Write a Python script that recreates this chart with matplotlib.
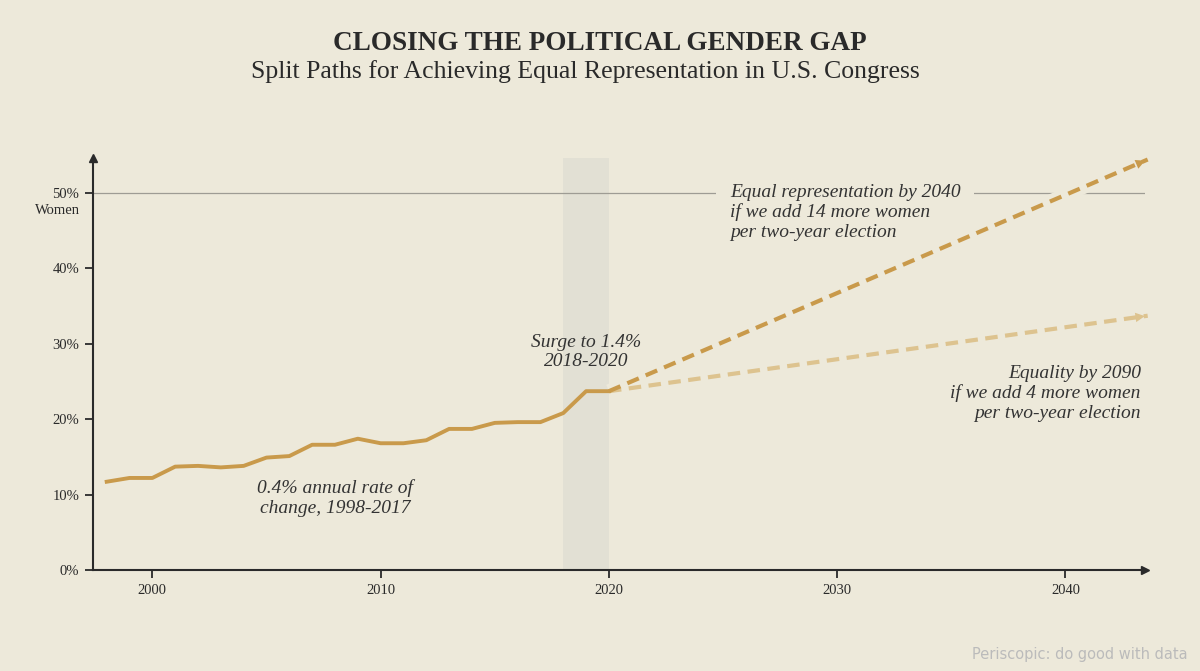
import numpy as np
import matplotlib.pyplot as plt

bg = "#EDE9DA"
gold = "#C99A4B"
gold_light = "#DDC38F"
ink = "#2A2A2A"

years = list(range(1998, 2021))
women_pct = [11.7, 12.2, 12.2, 13.7, 13.8, 13.6, 13.8, 14.9, 15.1, 16.6, 16.6,
             17.4, 16.8, 16.8, 17.2, 18.7, 18.7, 19.5, 19.6, 19.6, 20.8, 23.7, 23.7]

proj_years = [2020, 2043.6]
fast_path = [23.7, 54.4]
slow_path = [23.7, 33.7]

surge_span = (2018, 2020)
parity = 50

plt.rcParams["font.family"] = ["Liberation Serif", "DejaVu Serif"]

fig = plt.figure(figsize=(12, 6.71), dpi=100, facecolor=bg)
ax = fig.add_axes([0.0775, 0.1505, 0.877, 0.614], facecolor=bg)
ax.set_xlim(1997.4, 2043.5)
ax.set_ylim(0, 54.6)

# surge band
ax.axvspan(*surge_span, color="#E2E0D4", zorder=0, lw=0)

# 50% line
ax.axhline(parity, color="#9E9C94", lw=0.9, zorder=1)

# projections (with background halo so the 50% line breaks around it)
ax.plot(proj_years, fast_path, color=bg, lw=10, solid_capstyle="butt", zorder=2,
        clip_on=False)
ax.plot(proj_years, slow_path, color=gold_light, lw=3, ls=(0, (3, 1.8)), zorder=3,
        clip_on=False)
ax.plot(proj_years, fast_path, color=gold, lw=3, ls=(0, (3, 1.8)), zorder=3,
        clip_on=False)
for path, c in [(fast_path, gold), (slow_path, gold_light)]:
    x0, x1 = proj_years
    y0, y1 = path
    ax.annotate("", xy=(x1, y1), xytext=(x1 - 0.03 * (x1 - x0), y1 - 0.03 * (y1 - y0)),
                arrowprops=dict(arrowstyle="-|>", color=c, lw=0, mutation_scale=17),
                annotation_clip=False, zorder=4)

# history
ax.plot(years, women_pct, color=gold, lw=2.8, solid_joinstyle="round", zorder=3)

# axes
for s in ["top", "right"]:
    ax.spines[s].set_visible(False)
for s in ["left", "bottom"]:
    ax.spines[s].set_color(ink)
    ax.spines[s].set_linewidth(1.5)
ax.plot(1, 0, ">", color=ink, ms=6, transform=ax.transAxes, clip_on=False)
ax.plot(0, 1, "^", color=ink, ms=6, transform=ax.transAxes, clip_on=False)

ax.set_yticks([0, 10, 20, 30, 40, 50])
ax.set_yticklabels(["0%", "10%", "20%", "30%", "40%", "50%"])
ax.set_xticks([2000, 2010, 2020, 2030, 2040])
ax.tick_params(axis="both", colors=ink, labelsize=10.5, width=1.3, length=6, pad=4)
ax.text(-0.012, parity - 2.4, "Women", transform=ax.get_yaxis_transform(),
        ha="right", va="center", fontsize=10.5, color=ink)

note = dict(style="italic", fontsize=14, color="#333333", linespacing=1.2)
ax.text(2008.0, 9.5, "0.4% annual rate of\nchange, 1998-2017", ha="center", va="center", **note)
ax.text(2019.0, 28.9, "Surge to 1.4%\n2018-2020", ha="center", va="center", **note)
ax.text(2025.3, 47.4, "Equal representation by 2040\nif we add 14 more women\nper two-year election",
        ha="left", va="center", zorder=1.5,
        bbox=dict(facecolor=bg, edgecolor="none", pad=10), **note)
ax.text(2043.3, 23.4, "Equality by 2090\nif we add 4 more women\nper two-year election",
        ha="right", va="center", **note)

fig.text(0.5, 0.935, "CLOSING THE POLITICAL GENDER GAP", ha="center", va="center",
         fontsize=19.5, fontweight="bold", color=ink)
fig.text(0.4875, 0.893, "Split Paths for Achieving Equal Representation in U.S. Congress",
         ha="center", va="center", fontsize=18.5, color=ink)
fig.text(0.99, 0.025, "Periscopic: do good with data", ha="right", va="center",
         fontsize=10.5, color="#BBBBBB", family="DejaVu Sans")

fig.savefig("out.png", dpi=100, facecolor=bg)
